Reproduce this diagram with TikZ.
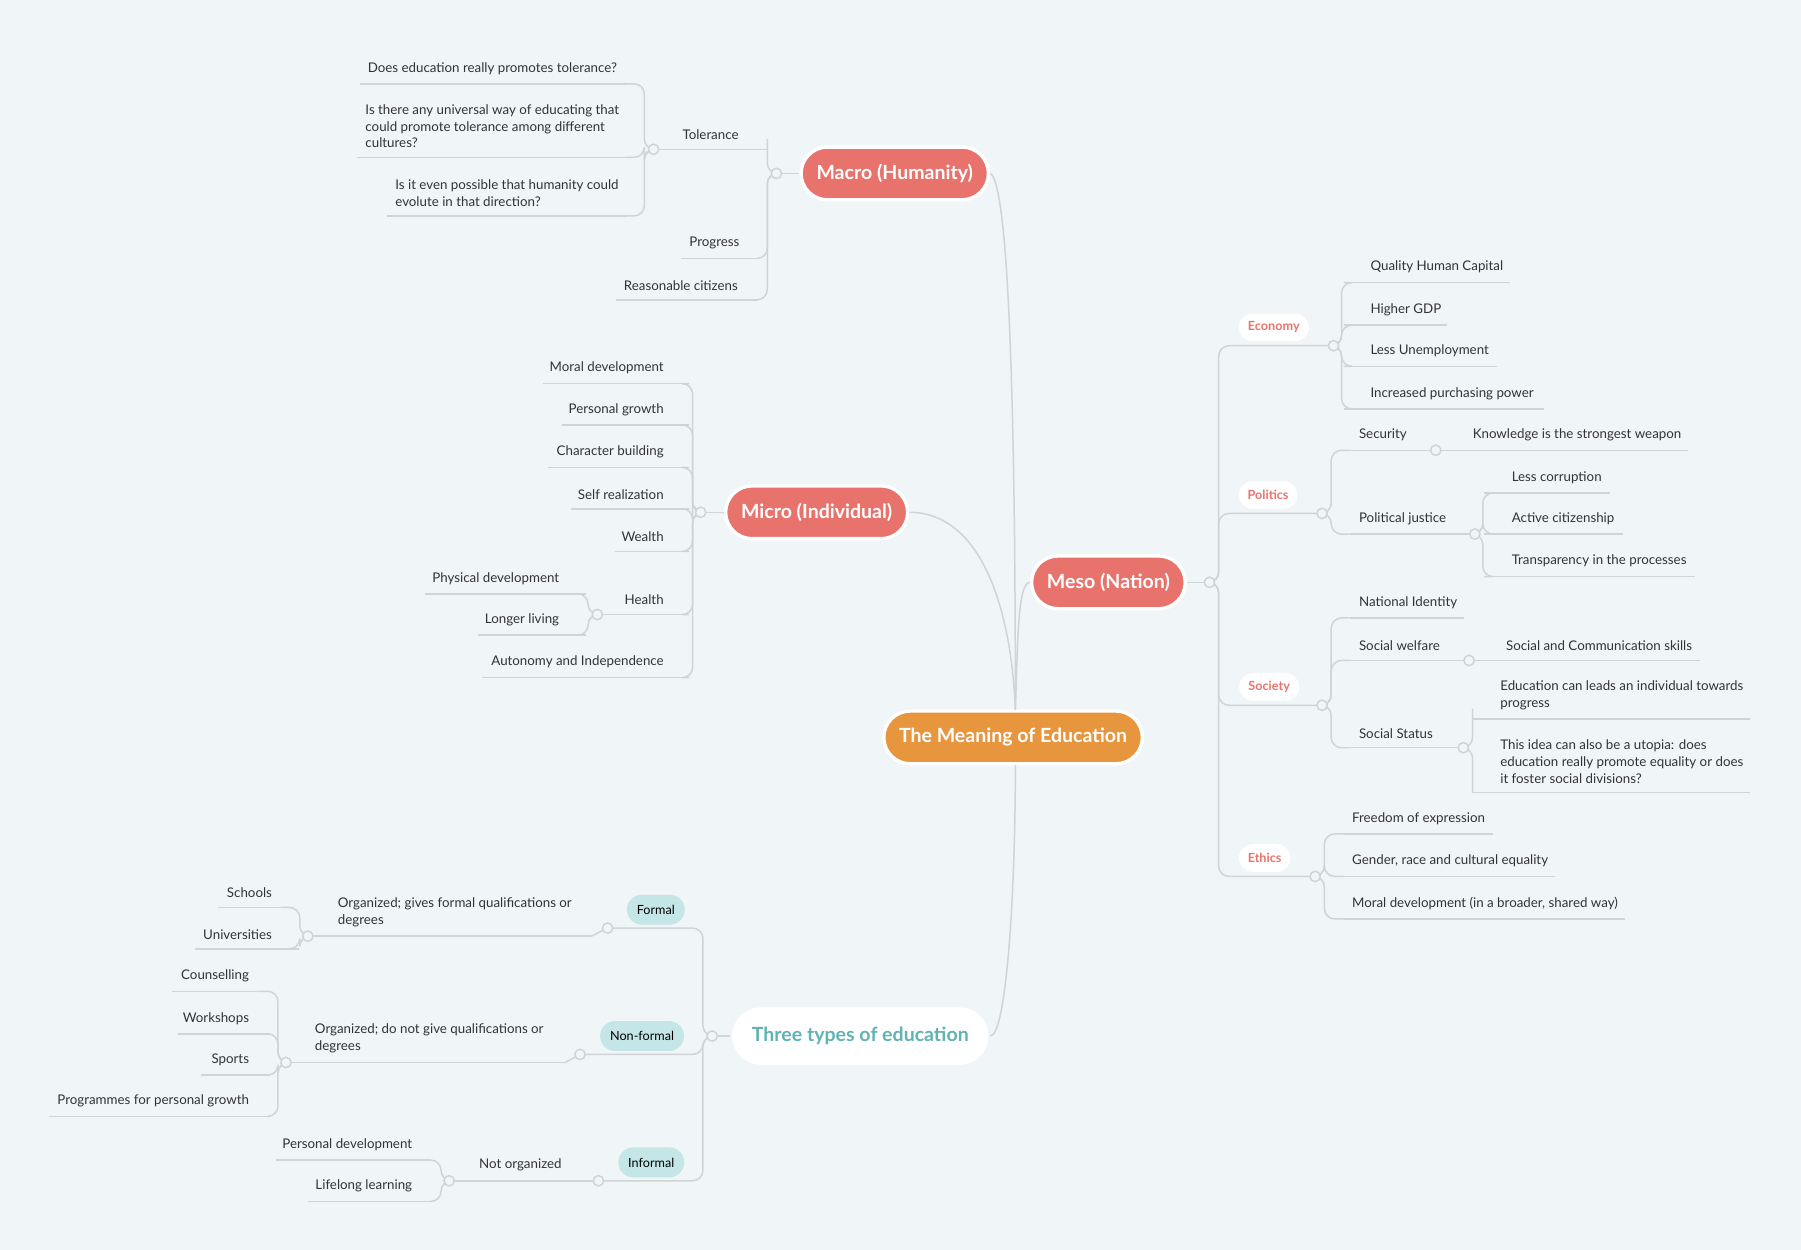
\documentclass[tikz,border=0pt]{standalone}
\usepackage{fontspec}
\setmainfont{Lato}
\usetikzlibrary{shapes.misc}
\definecolor{bg}{HTML}{F0F5F8}
\definecolor{ln}{HTML}{D0D4D7}
\definecolor{red}{HTML}{E8736C}
\definecolor{org}{HTML}{E8963E}
\definecolor{teal}{HTML}{5FB3B3}
\definecolor{tpill}{HTML}{C5E6E6}
\definecolor{txt}{HTML}{333333}
\tikzset{
 ln/.style={draw=ln,line width=1.3pt},
 cn/.style={ln,rounded corners=9pt},
 lbl/.style={font=\fontsize{11.6}{14.5}\selectfont,text=txt,inner sep=0pt,align=left},
 jc/.style={circle,draw=ln,fill=bg,line width=1.3pt,minimum size=9pt,inner sep=0pt},
 big/.style={rounded rectangle,draw=white,line width=3pt,minimum height=46pt,font=\fontsize{17}{20}\selectfont\bfseries,text=white,inner xsep=12pt},
 cat/.style={rounded rectangle,fill=white,minimum height=24pt,font=\fontsize{11}{13}\selectfont\bfseries,text=red,inner xsep=7pt},
 tp/.style={rounded rectangle,fill=tpill,minimum height=26pt,font=\fontsize{11}{13}\selectfont,text=black,inner xsep=8pt},
}
% name, x1, x2, yline, textx, anchor, text
\newcommand\lf[7]{\coordinate (#1a) at (#2,#4); \coordinate (#1b) at (#3,#4); \draw[ln] (#1a)--(#1b); \node[lbl,anchor=#6] (#1) at (#5,#4-8) {#7};}
\begin{document}
\begin{tikzpicture}[x=1pt,y=-1pt]
\fill[bg] (0,0) rectangle (1568,1088);
\useasboundingbox (0,0) rectangle (1568,1088);
% center
\node[big,fill=org] (C) at (882,642) {The Meaning of Education};
\node[big,fill=red] (MA) at (779,151) {Macro (Humanity)};
\node[big,fill=red] (MI) at (711,446) {Micro (Individual)};
\node[big,fill=red] (ME) at (965,507) {Meso (Nation)};
\node[big,fill=white,draw=none,text=teal,minimum height=50pt,inner xsep=16pt] (T) at (749,902) {Three types of education};
\coordinate (Ct) at (884,618); \coordinate (Cb) at (884,666);
\draw[ln] (Ct) .. controls (884,400) and (880,160) .. (MA.east);
\draw[ln] (Ct) .. controls (880,520) and (850,446) .. (MI.east);
\draw[ln] (Ct) .. controls (886,560) and (886,507) .. (ME.west);
\draw[ln] (Cb) .. controls (884,780) and (876,902) .. (T.east);
% Macro
\coordinate (jMA) at (676,151);
\draw[ln] (MA.west)--(jMA);
\lf{t}{593}{668}{130}{594}{south west}{Tolerance}
\lf{p}{593}{660}{225}{600}{south west}{Progress}
\lf{r}{536}{660}{261}{543}{south west}{Reasonable citizens}
\coordinate (jT) at (569,130);
\draw[cn] (jMA) -- (668,151) |- (tb);
\draw[cn] (jMA) -- (668,151) |- (pb);
\draw[cn] (jMA) -- (668,151) |- (rb);
\draw[ln] (ta)--(jT);
\lf{t1}{313}{545}{73}{320}{south west}{Does education really promotes tolerance?}
\lf{t2}{311}{545}{137}{318}{south west}{Is there any universal way of educating that\\could promote tolerance among different\\cultures?}
\lf{t3}{337}{545}{188}{344}{south west}{Is it even possible that humanity could\\evolute in that direction?}
\foreach \n in {t1,t2,t3} \draw[cn] (jT) -- (561,130) |- (\n b);
% Micro
\coordinate (jMI) at (610,446);
\draw[ln] (MI.west)--(jMI);
\lf{m1}{473}{600}{334}{578}{south east}{Moral development}
\lf{m2}{489}{600}{370}{578}{south east}{Personal growth}
\lf{m3}{477}{600}{407}{578}{south east}{Character building}
\lf{m4}{497}{600}{443}{578}{south east}{Self realization}
\lf{m5}{535}{600}{480}{578}{south east}{Wealth}
\lf{m6}{537}{600}{535}{578}{south east}{Health}
\lf{m7}{420}{600}{590}{578}{south east}{Autonomy and Independence}
\foreach \n in {m1,m2,m3,m4,m5,m6,m7} \draw[cn] (jMI) -- (603,446) |- (\n b);
\coordinate (jH) at (520,535);
\draw[ln] (m6a)--(jH);
\lf{h1}{370}{510}{517}{487}{south east}{Physical development}
\lf{h2}{416}{510}{553}{487}{south east}{Longer living}
\foreach \n in {h1,h2} \draw[cn] (jH) -- (512,535) |- (\n b);
% Meso
\coordinate (jME) at (1053,507);
\draw[ln] (ME.east)--(jME);
\coordinate (jec) at (1161,301);
\coordinate (jpo) at (1151,447);
\coordinate (jso) at (1151,614);
\coordinate (jet) at (1145,763);
\foreach \n in {jec,jpo,jso,jet} \draw[cn] (jME) -- (1061,507) |- (\n);
\node[cat] (ec) at (1109,285) {Economy};
\node[cat] (po) at (1104,431) {Politics};
\node[cat] (so) at (1105,598) {Society};
\node[cat] (et) at (1101,747) {Ethics};
\lf{e1}{1170}{1315}{246}{1193}{south west}{Quality Human Capital}
\lf{e2}{1170}{1260}{283}{1193}{south west}{Higher GDP}
\lf{e3}{1170}{1303}{319}{1193}{south west}{Less Unemployment}
\lf{e4}{1170}{1344}{356}{1193}{south west}{Increased purchasing power}
\foreach \n in {e1,e2,e3,e4} \draw[cn] (jec) -- (1168,301) |- (\n a);
\lf{s}{1175}{1250}{392}{1183}{south west}{Security}
\lf{pj}{1175}{1284}{465}{1183}{south west}{Political justice}
\foreach \n in {s,pj} \draw[cn] (jpo) -- (1159,447) |- (\n a);
\coordinate (js) at (1250,392);
\lf{k}{1258}{1470}{392}{1282}{south west}{Knowledge is the strongest weapon}
\draw[ln] (js)--(ka);
\coordinate (jpj) at (1284,465);
\lf{pj1}{1292}{1402}{429}{1316}{south west}{Less corruption}
\lf{pj2}{1292}{1413}{465}{1316}{south west}{Active citizenship}
\lf{pj3}{1292}{1476}{502}{1316}{south west}{Transparency in the processes}
\foreach \n in {pj1,pj2,pj3} \draw[cn] (jpj) -- (1291,465) |- (\n a);
\lf{ni}{1175}{1275}{538}{1183}{south west}{National Identity}
\lf{sw}{1175}{1279}{575}{1183}{south west}{Social welfare}
\lf{ss}{1175}{1274}{651}{1183}{south west}{Social Status}
\foreach \n in {ni,sw,ss} \draw[cn] (jso) -- (1159,614) |- (\n a);
\coordinate (jsw) at (1279,575);
\lf{sc}{1287}{1480}{575}{1311}{south west}{Social and Communication skills}
\draw[ln] (jsw)--(sca);
\coordinate (jss) at (1274,651);
\lf{ss1}{1282}{1524}{626}{1306}{south west}{Education can leads an individual towards\\progress}
\lf{ss2}{1282}{1524}{690}{1306}{south west}{This idea can also be a utopia: does\\education really promote equality or does\\it foster social divisions?}
\foreach \n in {ss1,ss2} \draw[cn] (jss) -- (1282,651) |- (\n a);
\lf{f1}{1170}{1300}{726}{1177}{south west}{Freedom of expression}
\lf{f2}{1170}{1354}{763}{1177}{south west}{Gender, race and cultural equality}
\lf{f3}{1170}{1415}{800}{1177}{south west}{Moral development (in a broader, shared way)}
\foreach \n in {f1,f2,f3} \draw[cn] (jet) -- (1153,763) |- (\n a);
% Three types
\coordinate (jT3) at (620,902);
\draw[ln] (T.west)--(jT3);
\coordinate (jfo) at (529,808);
\coordinate (jnf) at (505,918);
\coordinate (jin) at (521,1028);
\foreach \n in {jfo,jnf,jin} \draw[cn] (jT3) -- (612,902) |- (\n);
\node[tp] (fo) at (571,792) {Formal};
\node[tp] (nf) at (559,902) {Non-formal};
\node[tp] (inf) at (567,1012) {Informal};
\lf{o1}{276}{515}{815}{294}{south west}{Organized; gives formal qualifications or\\degrees}
\lf{o2}{256}{492}{925}{274}{south west}{Organized; do not give qualifications or\\degrees}
\lf{o3}{400}{512}{1028}{417}{south west}{Not organized}
\draw[ln] (o1b)--(jfo); \draw[ln] (o2b)--(jnf); \draw[ln] (o3b)--(jin);
\coordinate (jo1) at (268,815);
\coordinate (jo2) at (249,925);
\coordinate (jo3) at (391,1028);
\draw[ln] (o1a)--(jo1); \draw[ln] (o2a)--(jo2); \draw[ln] (o3a)--(jo3);
\lf{a1}{190}{245}{790}{237}{south east}{Schools}
\lf{a2}{170}{260}{826}{237}{south east}{Universities}
\foreach \n in {a1,a2} \draw[cn] (jo1) -- (261,815) |- (\n b);
\lf{b1}{150}{225}{863}{217}{south east}{Counselling}
\lf{b2}{155}{235}{900}{217}{south east}{Workshops}
\lf{b3}{175}{235}{936}{217}{south east}{Sports}
\lf{b4}{43}{235}{972}{217}{south east}{Programmes for personal growth}
\foreach \n in {b1,b2,b3,b4} \draw[cn] (jo2) -- (242,925) |- (\n b);
\lf{c1}{240}{375}{1010}{359}{south east}{Personal development}
\lf{c2}{268}{375}{1046}{359}{south east}{Lifelong learning}
\foreach \n in {c1,c2} \draw[cn] (jo3) -- (384,1028) |- (\n b);
% junction circles on top
\foreach \n in {jMA,jT,jMI,jH,jME,jec,jpo,jso,jet,js,jpj,jsw,jss,jT3,jfo,jnf,jin,jo1,jo2,jo3}
  \node[jc] at (\n) {};
\end{tikzpicture}
\end{document}
